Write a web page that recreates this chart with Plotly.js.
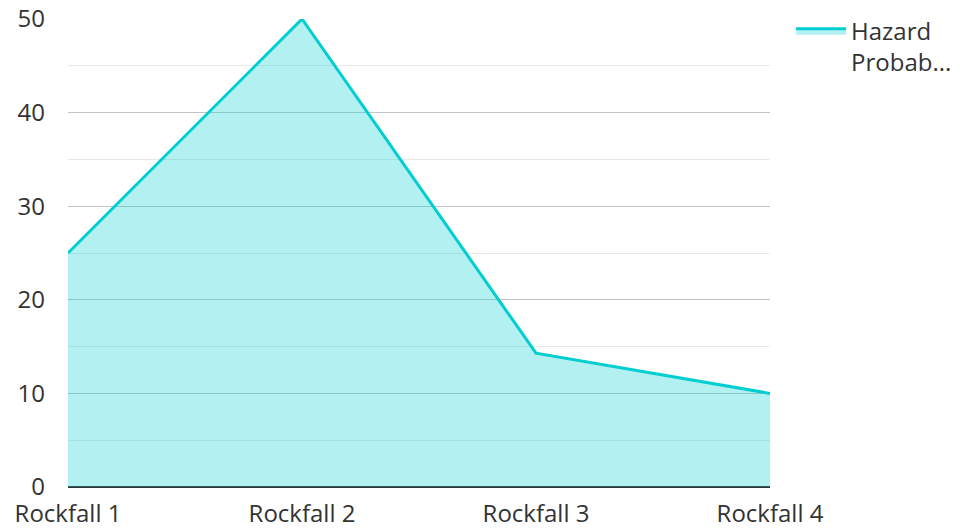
<!DOCTYPE html>
<html>
<head>
<meta charset="utf-8">
<script src="https://cdn.plot.ly/plotly-3.0.1.min.js"></script>
<style>html,body{margin:0;padding:0;background:#fff;}#chart{width:960px;height:528px;}</style>
</head>
<body>
<div id="chart"></div>
<script>
const categories = ["Rockfall 1", "Rockfall 2", "Rockfall 3", "Rockfall 4"];
const hazardValues = [25, 50, 14.3, 10];
const seriesName = "Hazard<br>Probab...";
const yTickValues = [0, 10, 20, 30, 40, 50];

const trace = {
  x: categories,
  y: hazardValues,
  type: "scatter",
  mode: "lines",
  name: seriesName,
  fill: "tozeroy",
  fillcolor: "rgba(0,206,209,0.3)",
  line: { color: "#00ced1", width: 3 },
  hoverinfo: "x+y"
};

const layout = {
  width: 960,
  height: 528,
  margin: { l: 68, r: 190, t: 19, b: 41, autoexpand: false },
  paper_bgcolor: "#fff",
  plot_bgcolor: "#fff",
  font: { family: "Open Sans, Noto Sans, sans-serif", size: 24, color: "#333" },
  showlegend: true,
  legend: {
    x: 1.03, y: 1.022, xanchor: "left", yanchor: "top",
    valign: "top",
    font: { size: 24, color: "#333" },
    itemwidth: 50
  },
  xaxis: {
    type: "category",
    range: [0, 3],
    automargin: false,
    showgrid: false,
    zeroline: false,
    showline: false,
    ticks: "",
    ticklabelstandoff: 10,
    tickfont: { size: 24, color: "#333" }
  },
  yaxis: {
    range: [0, 50],
    automargin: false,
    tickvals: yTickValues,
    showgrid: true,
    gridcolor: "#c4c4c4",
    gridwidth: 1,
    minor: { dtick: 5, showgrid: true, gridcolor: "#e8e8e8", gridwidth: 1 },
    zeroline: true,
    zerolinecolor: "#333",
    zerolinewidth: 2,
    ticks: "",
    ticklabelstandoff: 22,
    tickfont: { size: 24, color: "#333" }
  }
};

Plotly.newPlot("chart", [trace], layout, { displayModeBar: false, staticPlot: true });
</script>
</body>
</html>
